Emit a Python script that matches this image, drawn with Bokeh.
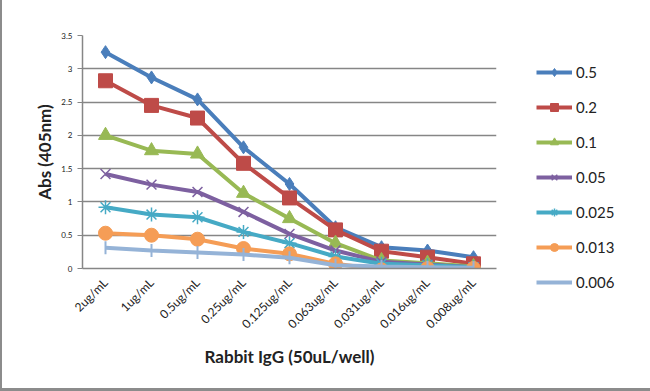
import math
from bokeh.plotting import figure
from bokeh.layouts import row
from bokeh.models import Legend, LegendItem, FactorRange, ColumnDataSource
from bokeh.embed import file_html
from bokeh.resources import INLINE

categories = ["2ug/mL", "1ug/mL", "0.5ug/mL", "0.25ug/mL", "0.125ug/mL",
              "0.063ug/mL", "0.031ug/mL", "0.016ug/mL", "0.008ug/mL"]
series_names = ["0.5", "0.2", "0.1", "0.05", "0.025", "0.013", "0.006"]
s_05 = [3.25, 2.87, 2.54, 1.82, 1.27, 0.62, 0.32, 0.27, 0.17]
s_02 = [2.82, 2.45, 2.26, 1.58, 1.06, 0.58, 0.26, 0.17, 0.07]
s_01 = [2.00, 1.77, 1.72, 1.13, 0.75, 0.38, 0.12, 0.08, 0.03]
s_005 = [1.42, 1.26, 1.15, 0.85, 0.52, 0.27, 0.10, 0.06, 0.02]
s_0025 = [0.92, 0.81, 0.77, 0.55, 0.38, 0.18, 0.07, 0.05, 0.02]
s_0013 = [0.53, 0.50, 0.44, 0.30, 0.22, 0.07, -0.02, 0.00, 0.00]
s_0006 = [0.31, 0.27, 0.24, 0.21, 0.16, 0.05, 0.03, 0.02, 0.01]
series_values = [s_05, s_02, s_01, s_005, s_0025, s_0013, s_0006]
y_ticks = [0, 0.5, 1, 1.5, 2, 2.5, 3, 3.5]

colors = ["#4A7EBB", "#BE4B48", "#98B954", "#7D60A0", "#46AAC5", "#F59D56", "#95B3D7"]
markers = ["diamond", "square", "triangle", "x", "asterisk", "circle", "dash"]
msizes = [13, 14, 14, 14, 14, 14, 13]
angles = [0, 0, 0, 0, 0, 0, math.pi / 2]

FONT = "Lato"

p = figure(width=518, height=391, x_range=FactorRange(*categories, range_padding=0),
           y_range=(0, 3.5), output_backend="svg", toolbar_location=None,
           min_border_left=82, min_border_top=35, min_border_bottom=123,
           min_border_right=22)
p.x_range.factor_padding = 0
p.outline_line_color = None
p.border_fill_color = None

# narrow companion panel that only carries the legend
pl = figure(width=132, height=391, x_range=FactorRange(*categories), y_range=(0, 3.5),
            output_backend="svg", toolbar_location=None,
            min_border_left=0, min_border_right=0, min_border_top=35, min_border_bottom=123)
pl.axis.visible = False
pl.grid.visible = False
pl.outline_line_color = None
pl.border_fill_color = None
pl.background_fill_color = None

items = []
for name, vals, c, m, ms, a in zip(series_names, series_values, colors, markers, msizes, angles):
    lw = 1.5 if m in ("x", "asterisk") else (2 if m == "dash" else 1)
    src = ColumnDataSource(dict(x=categories, y=vals))
    p.line("x", "y", source=src, line_color=c, line_width=4)
    p.scatter("x", "y", source=src, marker=m, size=ms, angle=a,
              fill_color=c, line_color=c, line_width=lw)
    l1 = pl.line("x", "y", source=src, line_color=c, line_width=4, visible=False)
    l2 = pl.scatter("x", "y", source=src, marker=m, size=ms, angle=a,
                    fill_color=c, line_color=c, line_width=lw, visible=False)
    items.append(LegendItem(label=name, renderers=[l1, l2]))

p.xgrid.grid_line_color = None
p.ygrid.grid_line_color = "#868686"
p.ygrid.grid_line_width = 1.5
p.yaxis.ticker = y_ticks
p.yaxis.major_label_overrides = {0: "0", 0.5: "0.5", 1: "1", 1.5: "1.5", 2: "2",
                                 2.5: "2.5", 3: "3", 3.5: "3.5"}

for ax in (p.xaxis[0], p.yaxis[0]):
    ax.axis_line_color = "#868686"
    ax.axis_line_width = 1.5
    ax.major_tick_line_color = "#868686"
    ax.minor_tick_line_color = None
    ax.major_label_text_font = FONT
    ax.axis_label_text_font = FONT
    ax.axis_label_text_font_style = "bold"
    ax.axis_label_text_font_size = "17px"
    ax.axis_label_text_color = "#222222"
    ax.major_label_text_color = "#222222"

p.yaxis.major_tick_out = 5
p.yaxis.major_tick_in = 0
p.yaxis.major_label_text_font_size = "8px"
p.yaxis.major_label_standoff = 5
p.yaxis.axis_label = "Abs (405nm)"
p.yaxis.axis_label_standoff = 3

p.xaxis.major_tick_out = 0
p.xaxis.major_tick_in = 0
p.xaxis.major_label_text_font_size = "12px"
p.xaxis.major_label_orientation = math.pi / 4
p.xaxis.major_label_standoff = 12
p.xaxis.axis_label = "Rabbit IgG (50uL/well)"
p.xaxis.axis_label_standoff = 6

legend = Legend(items=items, location=(18, -24), glyph_width=36, glyph_height=20,
                label_height=20, spacing=15, padding=0, margin=0,
                label_standoff=4, border_line_color=None, background_fill_alpha=0,
                inactive_fill_alpha=0, click_policy="none",
                label_text_font=FONT, label_text_font_size="15px",
                label_text_color="#222222")
pl.add_layout(legend, "left")

layout = row(p, pl, spacing=0)
layout.styles = {"background-color": "white",
                 "box-shadow": "inset 2px -3px 0 #8c8c8c"}
open("out.html", "w").write(file_html(layout, INLINE))
